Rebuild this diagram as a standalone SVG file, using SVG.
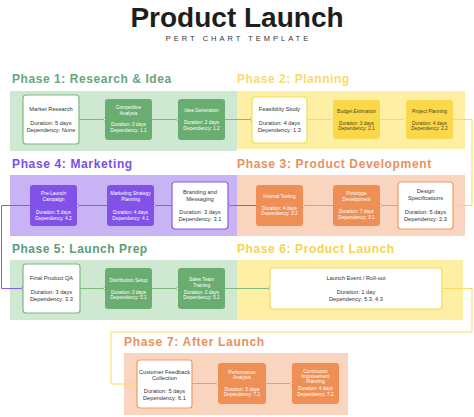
<svg xmlns="http://www.w3.org/2000/svg" width="474" height="417" viewBox="0 0 474 417">
<style>
text{font-family:"Liberation Sans",Arial,sans-serif}
.title{font-size:28px;font-weight:bold;fill:#1e1e1e;text-anchor:middle}
.sub{font-size:7.5px;letter-spacing:3px;fill:#333;text-anchor:middle}
.ph{font-size:12px;font-weight:bold;letter-spacing:0.8px}
.wt{font-size:5.7px;fill:#333;text-anchor:middle;dominant-baseline:central}
.ft{font-size:4.8px;fill:#fff;text-anchor:middle;dominant-baseline:central}
.yt{font-size:4.8px;fill:#4a3f1f;text-anchor:middle;dominant-baseline:central}
.c{fill:none;stroke-width:1}
.g{stroke:#7cba80}.y{stroke:#f7da62}.p{stroke:#8a5ce8}.o{stroke:#ef9c68}
.wg{fill:#fff;stroke:#7cba80;stroke-width:1.2}
.wy{fill:#fff;stroke:#f7d95c;stroke-width:1.2}
.wp{fill:#fff;stroke:#8a5ce8;stroke-width:1.2}
.wo{fill:#fff;stroke:#ef9c68;stroke-width:1.2}
.fg{fill:#6aad70}.fy{fill:#fbd84a}.fp{fill:#8252e8}.fo{fill:#ee8f55}
</style>
<defs>
<marker id="dg" markerUnits="userSpaceOnUse" markerWidth="6" markerHeight="6" refX="3" refY="3"><circle cx="3" cy="3" r="1.5" fill="#fff" stroke="#7cba80" stroke-width="0.8"/></marker>
<marker id="dy" markerUnits="userSpaceOnUse" markerWidth="6" markerHeight="6" refX="3" refY="3"><circle cx="3" cy="3" r="1.5" fill="#fff" stroke="#f7da62" stroke-width="0.8"/></marker>
<marker id="dp" markerUnits="userSpaceOnUse" markerWidth="6" markerHeight="6" refX="3" refY="3"><circle cx="3" cy="3" r="1.5" fill="#fff" stroke="#8a5ce8" stroke-width="0.8"/></marker>
<marker id="do" markerUnits="userSpaceOnUse" markerWidth="6" markerHeight="6" refX="3" refY="3"><circle cx="3" cy="3" r="1.5" fill="#fff" stroke="#ef9c68" stroke-width="0.8"/></marker>
</defs>
<rect width="474" height="417" fill="#fff"/>
<text class="title" x="237" y="27">Product Launch</text>
<text class="sub" x="238.5" y="41">PERT CHART TEMPLATE</text>

<g id="panels">
<rect x="10" y="91" width="227" height="60" fill="#cfe8d1"/>
<rect x="237" y="91" width="228" height="58" fill="#fdefa4"/>
<rect x="10" y="175" width="227" height="61" fill="#c8b4f5"/>
<rect x="237" y="175" width="228" height="61" fill="#f9d4be"/>
<rect x="10" y="260" width="227" height="60" fill="#cfe8d1"/>
<rect x="237" y="260" width="226" height="60" fill="#fdefa4"/>
<rect x="124" y="353" width="224" height="62" fill="#f9d4be"/>
</g>

<g id="labels">
<text class="ph" x="12" y="83" fill="#6aa67c" textLength="160">Phase 1: Research &amp; Idea</text>
<text class="ph" x="237" y="83" fill="#f8dc6c" textLength="113">Phase 2: Planning</text>
<text class="ph" x="12" y="168" fill="#7a4fe2" textLength="121">Phase 4: Marketing</text>
<text class="ph" x="237" y="168" fill="#e8915c" textLength="195">Phase 3: Product Development</text>
<text class="ph" x="12" y="253" fill="#5d9c7a" textLength="136">Phase 5: Launch Prep</text>
<text class="ph" x="237" y="253" fill="#f5d44e" textLength="158">Phase 6: Product Launch</text>
<text class="ph" x="124" y="346" fill="#e8915c" textLength="141">Phase 7: After Launch</text>
</g>

<g id="connectors">
<path class="c g" d="M79 119.5H105" marker-end="url(#dg)"/>
<path class="c g" d="M152 119.5H178" marker-end="url(#dg)"/>
<path class="c g" d="M225 119.5H252" marker-end="url(#dg)"/>
<path class="c y" d="M307 119.5H333" marker-end="url(#dy)"/>
<path class="c y" d="M380 119.5H406" marker-end="url(#dy)"/>
<path class="c y" d="M453 119.5H472V205.5H453" marker-end="url(#dy)"/>
<path class="c o" d="M398 205.5H380" marker-end="url(#do)"/>
<path class="c o" d="M333 205.5H303" marker-end="url(#do)"/>
<path class="c p" d="M256 205.5H228" marker-end="url(#dp)"/>
<path class="c p" d="M172 205.5H154" marker-end="url(#dp)"/>
<path class="c p" d="M107 205.5H77" marker-end="url(#dp)"/>
<path class="c p" d="M30 205.5H1.5V288.5H23" marker-end="url(#dp)"/>
<path class="c g" d="M80 288.5H105" marker-end="url(#dg)"/>
<path class="c g" d="M152 288.5H178" marker-end="url(#dg)"/>
<path class="c g" d="M225 288.5H270" marker-end="url(#dg)"/>
<path class="c y" d="M442 288.5H472V332H111V384H137" marker-end="url(#dy)"/>
<path class="c o" d="M192 383.5H218" marker-end="url(#do)"/>
<path class="c o" d="M266 383.5H292" marker-end="url(#do)"/>
</g>

<g id="n_market"><rect class="wg" x="23" y="95" width="56" height="49" rx="3"/>
<text class="wt" x="51" y="109">Market Research</text><text class="wt" x="51" y="123">Duration: 5 days</text><text class="wt" x="51" y="130">Dependency: None</text></g>
<g id="n_comp"><rect class="fg" x="105" y="99" width="47" height="41" rx="3"/>
<text class="ft" x="128.5" y="107.5">Competitive</text><text class="ft" x="128.5" y="113">Analysis</text><text class="ft" x="128.5" y="124.5">Duration: 3 days</text><text class="ft" x="128.5" y="130">Dependency: 1.1</text></g>
<g id="n_idea"><rect class="fg" x="178" y="99" width="47" height="41" rx="3"/>
<text class="ft" x="201.5" y="110">Idea Generation</text><text class="ft" x="201.5" y="122">Duration: 2 days</text><text class="ft" x="201.5" y="128">Dependency: 1.2</text></g>

<g id="n_feas"><rect class="wy" x="252" y="97" width="55" height="46" rx="3"/>
<text class="wt" x="279.5" y="109">Feasibility Study</text><text class="wt" x="279.5" y="123">Duration: 4 days</text><text class="wt" x="279.5" y="129.5">Dependency: 1.3</text></g>
<g id="n_budget"><rect class="fy" x="333" y="100" width="47" height="39" rx="3"/>
<text class="yt" x="356.5" y="111">Budget Estimation</text><text class="yt" x="356.5" y="123">Duration: 3 days</text><text class="yt" x="356.5" y="128.5">Dependency: 2.1</text></g>
<g id="n_proj"><rect class="fy" x="406" y="100" width="47" height="39" rx="3"/>
<text class="yt" x="429.5" y="111">Project Planning</text><text class="yt" x="429.5" y="123">Duration: 4 days</text><text class="yt" x="429.5" y="128.5">Dependency: 2.2</text></g>

<g id="n_prelaunch"><rect class="fp" x="30" y="185" width="47" height="41" rx="3"/>
<text class="ft" x="53.5" y="193">Pre-Launch</text><text class="ft" x="53.5" y="199">Campaign</text><text class="ft" x="53.5" y="212">Duration: 5 days</text><text class="ft" x="53.5" y="218">Dependency: 4.2</text></g>
<g id="n_mktstrat"><rect class="fp" x="107" y="185" width="47" height="41" rx="3"/>
<text class="ft" x="130.5" y="193">Marketing Strategy</text><text class="ft" x="130.5" y="199">Planning</text><text class="ft" x="130.5" y="212">Duration: 4 days</text><text class="ft" x="130.5" y="218">Dependency: 4.1</text></g>
<g id="n_branding"><rect class="wp" x="172" y="182" width="56" height="47" rx="3"/>
<text class="wt" x="200" y="192">Branding and</text><text class="wt" x="200" y="198.5">Messaging</text><text class="wt" x="200" y="212">Duration: 3 days</text><text class="wt" x="200" y="219">Dependency: 3.1</text></g>

<g id="n_internal"><rect class="fo" x="256" y="185" width="47" height="41" rx="3"/>
<text class="ft" x="279.5" y="196.5">Internal Testing</text><text class="ft" x="279.5" y="208">Duration: 4 days</text><text class="ft" x="279.5" y="213.5">Dependency: 3.2</text></g>
<g id="n_proto"><rect class="fo" x="333" y="185" width="47" height="41" rx="3"/>
<text class="ft" x="356.5" y="193">Prototype</text><text class="ft" x="356.5" y="199">Development</text><text class="ft" x="356.5" y="211.5">Duration: 7 days</text><text class="ft" x="356.5" y="217">Dependency: 3.1</text></g>
<g id="n_design"><rect class="wo" x="398" y="182" width="55" height="47" rx="3"/>
<text class="wt" x="425.5" y="191">Design</text><text class="wt" x="425.5" y="198">Specifications</text><text class="wt" x="425.5" y="212">Duration: 5 days</text><text class="wt" x="425.5" y="219">Dependency: 2.3</text></g>

<g id="n_qa"><rect class="wg" x="23" y="264" width="57" height="49" rx="3"/>
<text class="wt" x="51.5" y="278">Final Product QA</text><text class="wt" x="51.5" y="292">Duration: 3 days</text><text class="wt" x="51.5" y="299">Dependency: 3.3</text></g>
<g id="n_dist"><rect class="fg" x="105" y="268" width="47" height="41" rx="3"/>
<text class="ft" x="128.5" y="280">Distribution Setup</text><text class="ft" x="128.5" y="292">Duration: 3 days</text><text class="ft" x="128.5" y="297.5">Dependency: 5.1</text></g>
<g id="n_sales"><rect class="fg" x="178" y="268" width="47" height="41" rx="3"/>
<text class="ft" x="201.5" y="279">Sales Team</text><text class="ft" x="201.5" y="285.5">Training</text><text class="ft" x="201.5" y="292">Duration: 2 days</text><text class="ft" x="201.5" y="297.5">Dependency: 5.2</text></g>

<g id="n_launch"><rect class="wy" x="270" y="268" width="172" height="41" rx="3"/>
<text class="wt" x="356" y="278">Launch Event / Roll-out</text><text class="wt" x="356" y="292">Duration: 1 day</text><text class="wt" x="356" y="298.5">Dependency: 5.3, 4.3</text></g>

<g id="n_feedback"><rect class="wo" x="137" y="360" width="55" height="48" rx="3"/>
<text class="wt" x="164.5" y="372">Customer Feedback</text><text class="wt" x="164.5" y="377.5">Collection</text><text class="wt" x="164.5" y="391">Duration: 5 days</text><text class="wt" x="164.5" y="397.5">Dependency: 6.1</text></g>
<g id="n_perf"><rect class="fo" x="218" y="363" width="48" height="41" rx="3"/>
<text class="ft" x="242" y="372">Performance</text><text class="ft" x="242" y="377">Analysis</text><text class="ft" x="242" y="389">Duration: 3 days</text><text class="ft" x="242" y="394.5">Dependency: 7.1</text></g>
<g id="n_cont"><rect class="fo" x="292" y="363" width="47" height="41" rx="3"/>
<text class="ft" x="315.5" y="371.5">Continuous</text><text class="ft" x="315.5" y="376.5">Improvement</text><text class="ft" x="315.5" y="381.5">Planning</text><text class="ft" x="315.5" y="388.5">Duration: 4 days</text><text class="ft" x="315.5" y="394">Dependency: 7.2</text></g>
</svg>
